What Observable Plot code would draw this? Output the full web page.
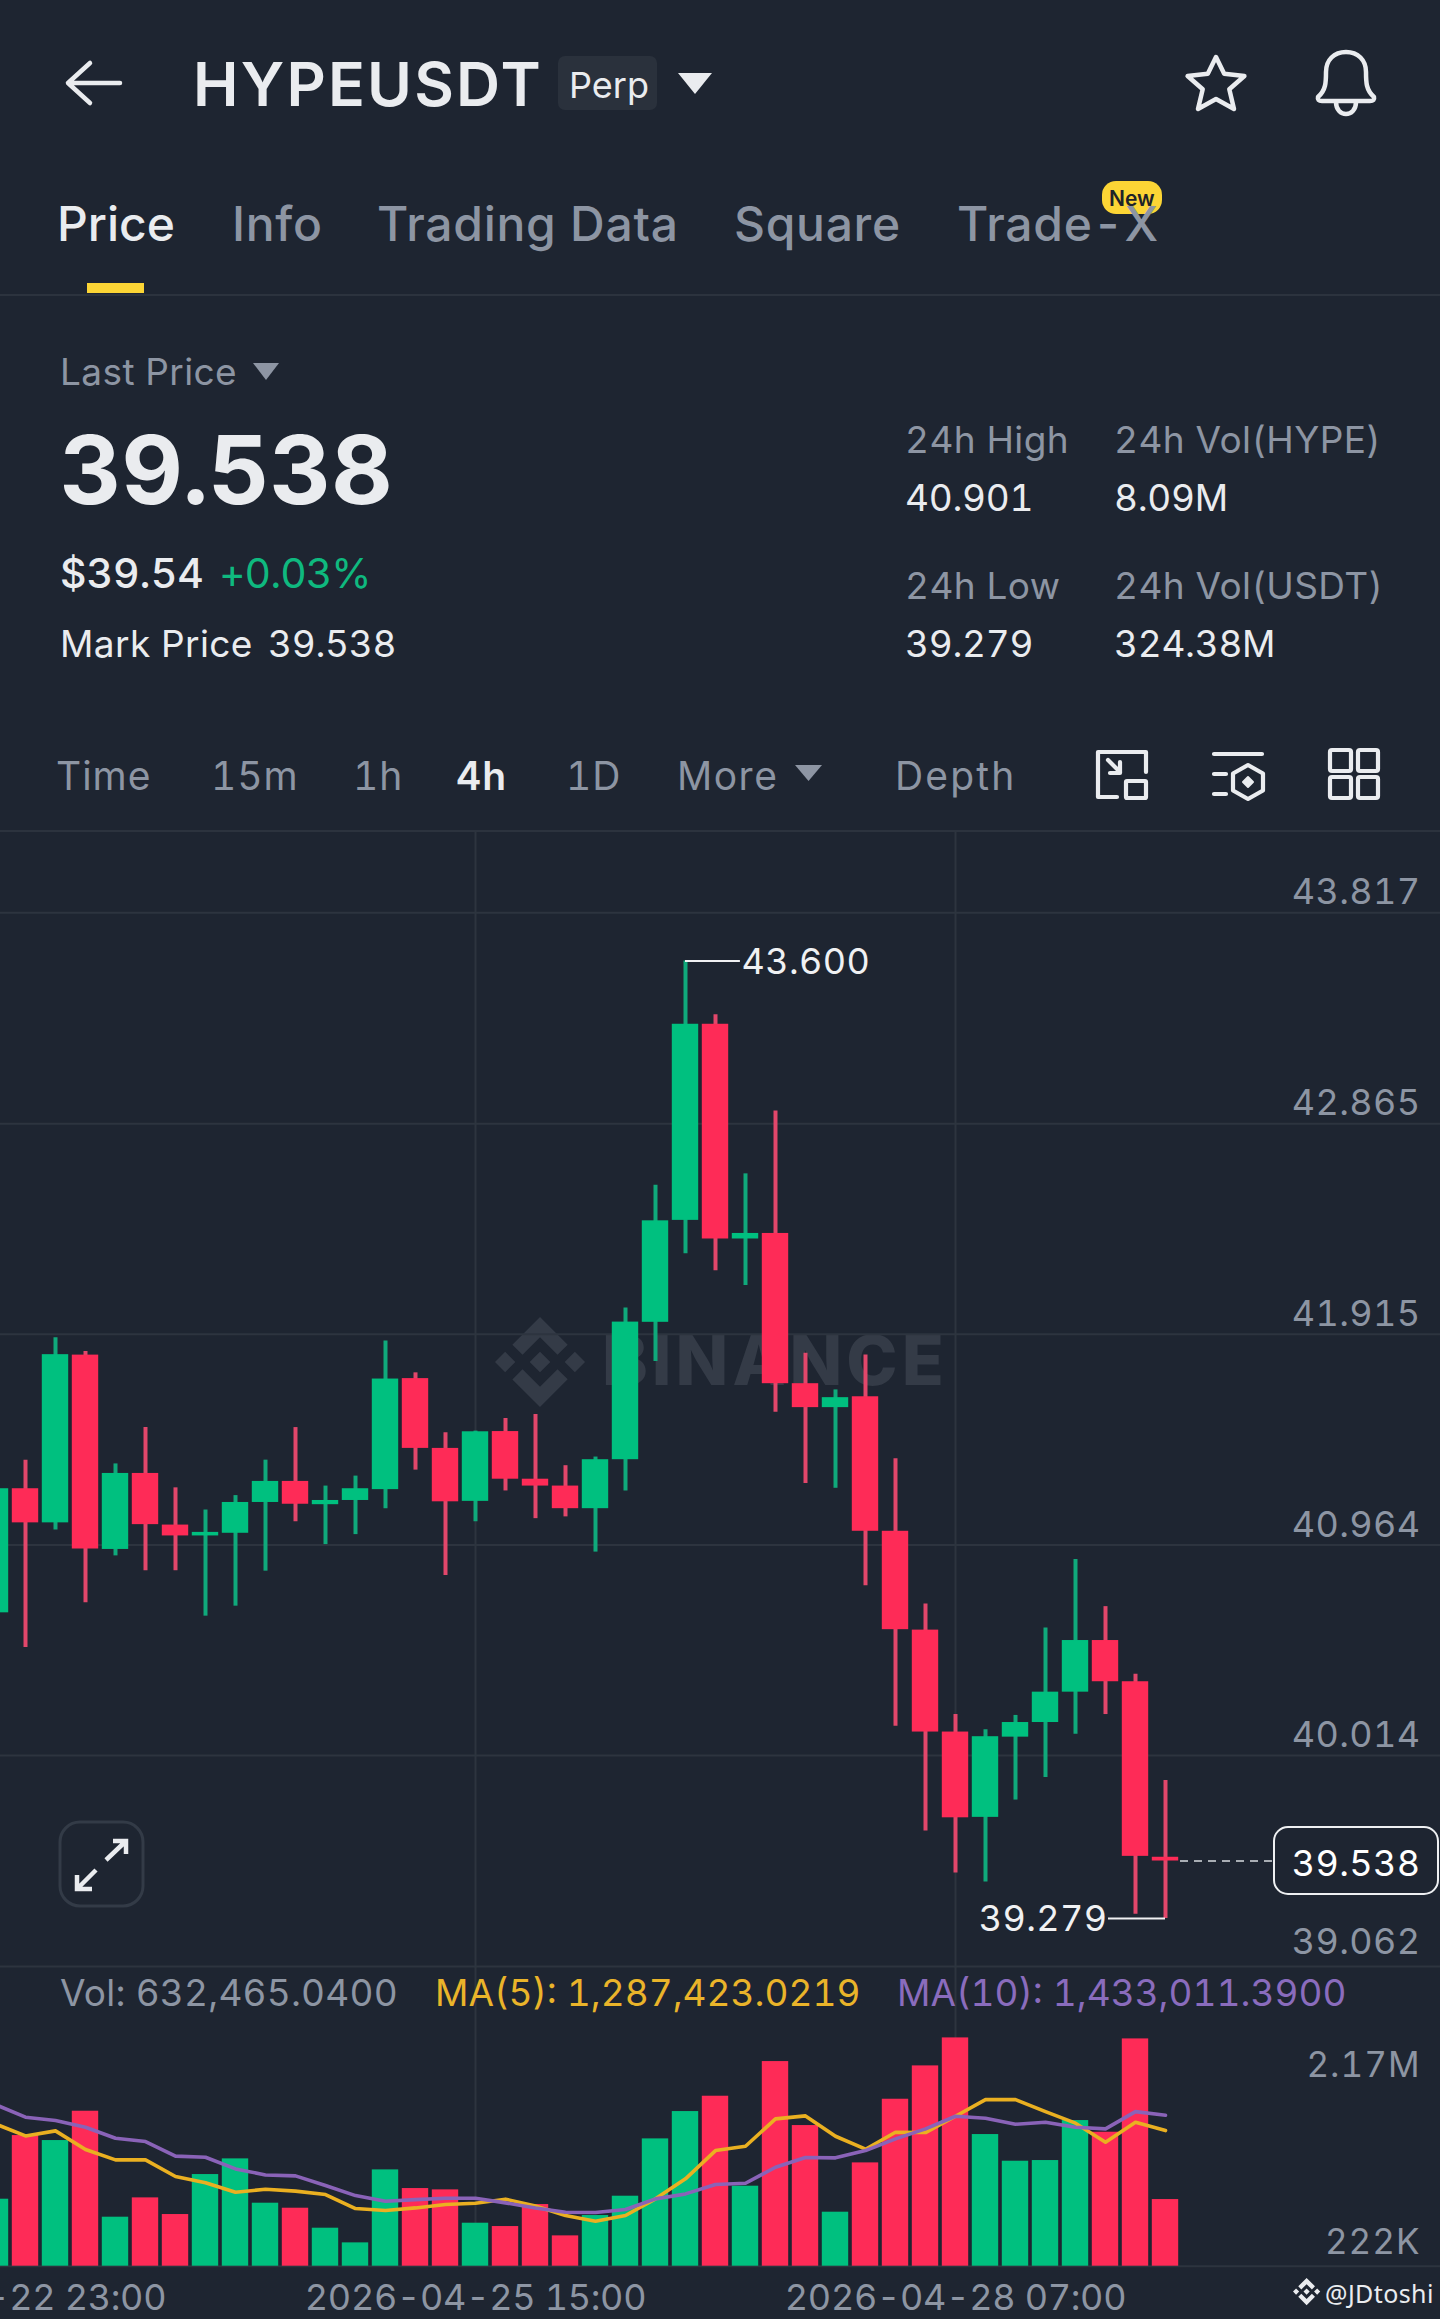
<!DOCTYPE html>
<html><head><meta charset="utf-8">
<script src="https://cdn.jsdelivr.net/npm/d3@7"></script>
<script src="https://cdn.jsdelivr.net/npm/@observablehq/plot@0.6"></script>
<style>
html,body{margin:0;padding:0;background:#1e2531;}
#page{position:relative;width:1440px;height:2319px;overflow:hidden;background:#1e2531;font-family:Inter,"Noto Sans",sans-serif;font-variant-numeric:tabular-nums;}
#page .t{position:absolute;white-space:nowrap;transform:translateY(-50%);line-height:1;}
.g{color:#8d95a3}.w{color:#eaecef}
.tab{font-size:48px;font-weight:500;color:#8d95a3;top:224px;letter-spacing:.7px}
.lab{font-size:37px;letter-spacing:.4px}
#page .num{letter-spacing:-.3px}
.tb{font-size:39px;top:775px;color:#8d95a3;letter-spacing:1px}
.leg{font-size:37px;top:1992px;letter-spacing:.2px}
#chartP,#chartV{position:absolute;left:0}
#chartP{top:830px;z-index:2}
#chartV{top:1967px;z-index:2}
svg.ic{position:absolute;left:0;top:0;width:1440px;height:2319px;pointer-events:none}
</style></head><body>
<div id="page">
  <svg class="ic" style="z-index:0" viewBox="0 0 1440 2319">
    <g transform="translate(495 1317) scale(.711)" fill="#343b47"><path d="M38.73 53.2 63.3 28.63l24.6 24.6 14.3-14.31L63.3 0 24.42 38.88zM0 63.31l14.31-14.31 14.3 14.3-14.3 14.31zM38.73 73.41 63.3 97.98l24.6-24.58 14.31 14.29L63.3 126.61 24.43 87.74zM97.99 63.31l14.31-14.31 14.31 14.31-14.31 14.31zM77.81 63.3 63.3 48.78 52.57 59.51l-1.24 1.23-2.54 2.54 14.51 14.53 14.51-14.51z"/></g>
    <text x="602" y="1385" font-size="69" font-weight="800" fill="#343b47" letter-spacing="4" font-family="Inter">BINANCE</text>
    <rect x="1274" y="1827" width="164" height="67" rx="14" fill="#1e2531" stroke="#eef0f2" stroke-width="2"/>
  </svg>
  <div id="chartP"></div>
  <div id="chartV"></div>

  <svg class="ic" style="z-index:3" viewBox="0 0 1440 2319" fill="none" stroke="#eaecef" stroke-linecap="round" stroke-linejoin="round">
    <path stroke-width="4.5" d="M120 83H68M90 63L68 83L90 103"/>
    <rect x="558" y="56" width="99" height="54" rx="7" fill="#2a313c" stroke="none"/>
    <path fill="#eaecef" stroke="none" d="M678 73H712L695 94Z"/>
    <path stroke-width="4.5" d="M1216 57L1224.2 73.7L1244.4 76L1229.3 89.3L1234 109L1216 99L1198 109L1202.7 89.3L1187.6 76L1207.8 73.7Z"/>
    <path stroke-width="4.5" d="M1318 97C1326 90 1326 82 1326 72C1326 60 1334 52 1346 52C1358 52 1366 60 1366 72C1366 82 1366 90 1374 97Q1375 101 1370 101H1322Q1317 101 1318 97ZM1336 102C1336 118 1356 118 1356 102"/>
    <rect x="87" y="283" width="57" height="10" fill="#fcd535" stroke="none"/>
    <rect x="0" y="294" width="1440" height="2" fill="#2c333e" stroke="none"/>
    <rect x="1102" y="181" width="60" height="33" rx="14" fill="#fcd535" stroke="none"/>
    <path fill="#8d95a3" stroke="none" d="M253 363H279L266 380Z"/>
    <path fill="#8d95a3" stroke="none" d="M795 765H822L808.5 781Z"/>
    <g stroke-width="4.2">
      <path d="M1146 772V752H1098V797H1117"/><rect x="1126" y="781" width="20" height="17" rx="1"/>
      <path d="M1108 760L1120 772M1120 762V773H1110"/>
      <path d="M1214 754H1262M1214 774H1226M1214 794H1226"/>
      <path d="M1248 765L1263 773.5V790.5L1248 799L1233 790.5V773.5Z"/>
      <path fill="#eaecef" stroke-width="2" d="M1248 777L1253 782L1248 787L1243 782Z"/>
      <rect x="1330" y="750" width="21" height="21" rx="2"/><rect x="1358" y="750" width="20" height="21" rx="2"/>
      <rect x="1330" y="777" width="21" height="21" rx="2"/><rect x="1358" y="777" width="20" height="21" rx="2"/>
    </g>
    <rect x="0" y="830" width="1440" height="2" fill="#2c333e" stroke="none"/>
    <rect x="60" y="1822" width="83" height="84" rx="20" stroke="#333b47" stroke-width="3"/>
    <path stroke-width="4.5" stroke-linecap="butt" stroke-linejoin="miter" d="M106 1860L126 1841M113 1841H126V1854M96 1870L77 1889M77 1875V1889H92"/>
    <g transform="translate(1293 2278) scale(.215)" fill="#eaecef" stroke="none"><path d="M38.73 53.2 63.3 28.63l24.6 24.6 14.3-14.31L63.3 0 24.42 38.88zM0 63.31l14.31-14.31 14.3 14.3-14.3 14.31zM38.73 73.41 63.3 97.98l24.6-24.58 14.31 14.29L63.3 126.61 24.43 87.74zM97.99 63.31l14.31-14.31 14.31 14.31-14.31 14.31zM77.81 63.3 63.3 48.78 52.57 59.51l-1.24 1.23-2.54 2.54 14.51 14.53 14.51-14.51z"/></g>
  </svg>

  <div style="position:absolute;inset:0;z-index:4">
    <div class="t" style="left:193px;top:84px;font-size:61px;font-weight:600;color:#eaecef;letter-spacing:2.2px">HYPEUSDT</div>
    <div class="t w" style="left:569px;top:85px;font-size:36px">Perp</div>
    <div class="t tab" style="left:57px;color:#eaecef;letter-spacing:0">Price</div>
    <div class="t tab" style="left:232px">Info</div>
    <div class="t tab" style="left:377px">Trading Data</div>
    <div class="t tab" style="left:734px">Square</div>
    <div class="t tab" style="left:957px;letter-spacing:.7px;font-feature-settings:'calt' 0">Trade-X</div>
    <div class="t" style="left:1109px;top:198px;font-size:21px;font-weight:600;color:#1e2329">New</div>
    <div class="t g lab" style="left:60px;top:371px">Last Price</div>
    <div class="t" style="left:60px;top:469px;font-size:95px;font-weight:700;color:#eaecef;letter-spacing:0">39.538</div>
    <div class="t w" style="left:60px;top:573px;font-size:41px;font-weight:500">$39.54</div>
    <div class="t" style="left:219px;top:573px;font-size:41px;color:#0fb97f;letter-spacing:-1px">+0.03%</div>
    <div class="t w lab" style="left:60px;top:643px">Mark Price</div>
    <div class="t w lab num" style="left:268px;top:643px">39.538</div>
    <div class="t g lab" style="left:905px;top:439px">24h High</div>
    <div class="t w lab num" style="left:905px;top:497px">40.901</div>
    <div class="t g lab" style="left:1114px;top:439px">24h Vol(HYPE)</div>
    <div class="t w lab num" style="left:1114px;top:497px">8.09M</div>
    <div class="t g lab" style="left:905px;top:585px">24h Low</div>
    <div class="t w lab num" style="left:905px;top:643px">39.279</div>
    <div class="t g lab" style="left:1114px;top:585px">24h Vol(USDT)</div>
    <div class="t w lab num" style="left:1114px;top:643px">324.38M</div>
    <div class="t tb" style="left:56px">Time</div>
    <div class="t tb" style="left:211px">15m</div>
    <div class="t tb" style="left:353px">1h</div>
    <div class="t tb" style="left:456px;color:#eaecef;font-weight:600">4h</div>
    <div class="t tb" style="left:566px">1D</div>
    <div class="t tb" style="left:677px;letter-spacing:1.5px">More</div>
    <div class="t tb" style="left:895px;letter-spacing:2.2px">Depth</div>
    <div class="t leg g" style="left:60px">Vol: 632,465.0400</div>
    <div class="t leg" style="left:435px;color:#eab42a;letter-spacing:0">MA(5): 1,287,423.0219</div>
    <div class="t leg" style="left:897px;color:#8a6cbd;letter-spacing:0">MA(10): 1,433,011.3900</div>
    <div class="t w" style="left:1325px;top:2293px;font-size:25px;font-family:'Noto Sans';letter-spacing:.4px">@JDtoshi</div>
  </div>
</div>
<script>
const startTime = Date.UTC(2026, 3, 22, 23);
const candleHours = 4;
const opens  = [40.658,41.218,41.064,41.821,40.944,41.287,41.054,41.005,41.017,41.156,41.251,41.146,41.165,41.214,41.715,41.400,41.161,41.476,41.261,41.230,41.128,41.349,41.969,42.429,43.314,42.345,42.370,41.692,41.584,41.633,41.026,40.580,40.120,39.735,40.097,40.163,40.300,40.533,40.347,39.555];
const highs  = [41.285,41.347,41.899,41.837,41.330,41.494,41.222,41.122,41.187,41.347,41.494,41.230,41.275,41.885,41.741,41.471,41.478,41.535,41.553,41.322,41.361,42.034,42.588,43.600,43.357,42.639,42.923,41.829,41.664,41.821,41.353,40.698,40.199,40.130,40.195,40.590,40.899,40.686,40.381,39.901];
const lows   = [40.580,40.502,41.032,40.703,40.915,40.848,40.848,40.643,40.688,40.846,41.069,40.966,41.011,41.128,41.302,40.827,41.069,41.208,41.083,41.091,40.932,41.208,41.792,42.278,42.202,42.135,41.563,41.242,41.220,40.780,40.146,39.674,39.484,39.443,39.813,39.915,40.110,40.199,39.298,39.279];
const closes = [41.218,41.064,41.823,40.946,41.287,41.056,41.005,41.021,41.156,41.251,41.148,41.165,41.218,41.713,41.400,41.159,41.475,41.261,41.230,41.128,41.349,41.970,42.427,43.314,42.345,42.370,41.692,41.584,41.629,41.026,40.582,40.120,39.733,40.099,40.163,40.300,40.533,40.347,39.559,39.538];
const volumes = [635600,1239600,1192200,1470500,464900,648300,490200,869600,1018300,597700,550200,360500,221400,913900,736800,724200,407900,376300,585000,287800,480700,664100,1208000,1467300,1612800,759000,1941700,1334500,512300,980300,1584300,1900600,2166200,1249100,996100,1002500,1381900,1271200,2156700,632465];
const ma5  = [1350,1236,1284,1107,1009,1009,851,791,702,730,712,680,547,528,553,585,598,636,572,481,427,481,639,829,1097,1138,1398,1426,1233,1110,1271,1268,1423,1581,1581,1467,1357,1176,1366,1287];
const ma10 = [1534,1414,1382,1319,1214,1183,1044,1034,923,866,857,765,670,617,632,645,645,601,553,512,509,538,639,686,775,787,939,1031,1028,1097,1208,1303,1423,1404,1347,1366,1319,1303,1467,1433];
const priceTicks = [43.817,42.865,41.915,40.964,40.014,39.062];
const lastPrice = 39.538, highPrice = 43.600, lowPrice = 39.279;
const volTop = 2170000, volLow = 222000;
const xTickIdx = [0,16,32];

const up = "#00c07f", down = "#fe2b57", upWick = "#10a97b", downWick = "#e2476b", gridC = "#2d343f", axisC = "#8d95a3";
const hour = 3600e3;
const t = i => new Date(startTime + i * candleHours * hour);
const half = candleHours * hour * 0.44;
const candles = opens.map((o,i)=>({time:t(i),open:o,high:highs[i],low:lows[i],close:closes[i],vol:volumes[i],ma5:ma5[i]*1000,ma10:ma10[i]*1000,up:closes[i]>=o}));
const xScale = {type:"utc",domain:[t(0),t(39)],range:[-5,1165]};
const xTicks = xTickIdx.map(t);
const fmt3 = d3.format(".3f");
const font = {fontFamily:"Inter, 'Noto Sans', sans-serif",fontVariantNumeric:"tabular-nums"};

const priceChart = Plot.plot({
  width:1440,height:1138,margin:0,
  style:{background:"transparent",...font,letterSpacing:"0.4px"},
  x:{...xScale,axis:null},
  y:{type:"linear",domain:[39.062,43.817],range:[1136,82.3],axis:null},
  marks:[
    Plot.ruleY(priceTicks,{stroke:gridC,strokeWidth:2}),
    Plot.ruleX(xTicks.slice(1),{stroke:gridC,strokeWidth:2}),
    Plot.ruleX(candles,{x:"time",y1:"low",y2:"high",stroke:d=>d.up?upWick:downWick,strokeWidth:4}),
    Plot.rect(candles,{x1:d=>+d.time-half,x2:d=>+d.time+half,y1:d=>Math.min(d.open,d.close),y2:d=>Math.max(d.open,d.close),fill:d=>d.up?up:down}),
    Plot.text(priceTicks.slice(0,-1),{y:d=>d,text:fmt3,frameAnchor:"right",textAnchor:"end",dx:-20,dy:-20,fontSize:36,fill:axisC}),
    Plot.text(priceTicks.slice(-1),{y:d=>d,text:fmt3,frameAnchor:"right",textAnchor:"end",dx:-20,dy:-24,fontSize:36,fill:axisC}),
    Plot.ruleY([lastPrice],{x1:t(39.5),x2:t(42.6),stroke:"#d8dbe0",strokeWidth:1.5,strokeDasharray:"8,6"}),
    Plot.text([lastPrice],{y:d=>d,text:fmt3,frameAnchor:"right",textAnchor:"end",dx:-20,dy:3,fontSize:36,fill:"#ffffff"}),
    Plot.ruleY([highPrice],{x1:t(23),x2:t(24.83),stroke:"#f0f1f3",strokeWidth:2}),
    Plot.text([highPrice],{x:t(24.83),y:d=>d,text:fmt3,textAnchor:"start",dx:1,dy:2,fontSize:36,fill:"#f0f1f3"}),
    Plot.ruleY([lowPrice],{x1:t(37.1),x2:t(39),stroke:"#f0f1f3",strokeWidth:2}),
    Plot.text([lowPrice],{x:t(37.1),y:d=>d,text:fmt3,textAnchor:"end",dx:-1,dy:1,fontSize:36,fill:"#f0f1f3"})
  ]
});
document.getElementById("chartP").append(priceChart);

const volChart = Plot.plot({
  width:1440,height:352,margin:0,marginBottom:53.3,
  style:{background:"transparent",...font,letterSpacing:"1px"},
  x:{...xScale,axis:null},
  y:{type:"linear",domain:[0,volTop],range:[298.7,70],axis:null},
  marks:[
    Plot.ruleX(xTicks.slice(1),{y1:0,y2:2830000,stroke:gridC,strokeWidth:2}),
    Plot.ruleY([0],{stroke:gridC,strokeWidth:2}),
    Plot.rect(candles,{x1:d=>+d.time-half,x2:d=>+d.time+half,y1:0,y2:"vol",fill:d=>d.up?up:down}),
    Plot.line(candles,{x:"time",y:"ma5",stroke:"#eab021",strokeWidth:3.6}),
    Plot.line(candles,{x:"time",y:"ma10",stroke:"#8a63b8",strokeWidth:3.6}),
    Plot.text(["2.17M"],{y:volTop,text:d=>d,frameAnchor:"right",textAnchor:"end",dx:-20,dy:28,fontSize:35,fill:axisC}),
    Plot.text(["222K"],{y:volLow,text:d=>d,frameAnchor:"right",textAnchor:"end",dx:-20,fontSize:35,fill:axisC}),
    Plot.axisX(xTicks,{anchor:"bottom",tickSize:0,tickPadding:18,fontSize:36,fill:axisC,tickFormat:d3.utcFormat("%Y-%m-%d %H:%M"),label:null})
  ]
});
document.getElementById("chartV").append(volChart);
volChart.querySelectorAll('g[aria-label*="axis"]').forEach(g=>g.style.letterSpacing="-0.3px");
</script>
</body></html>
